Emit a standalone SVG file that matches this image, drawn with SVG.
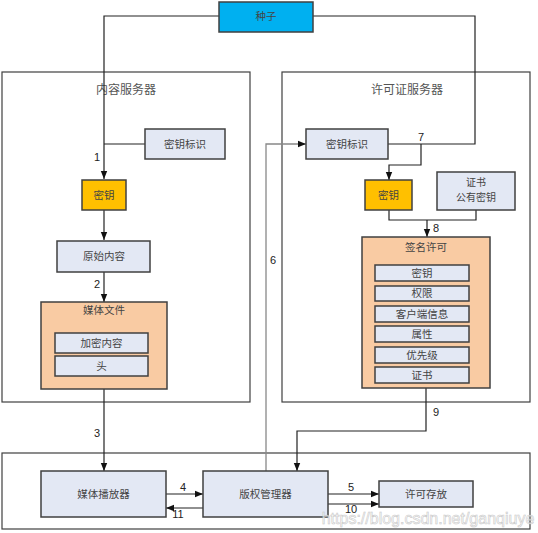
<svg xmlns="http://www.w3.org/2000/svg" width="538" height="533" viewBox="0 0 538 533">
<style>
.c{fill:#fff;stroke:#404040;stroke-width:1.2}
.n{fill:#e3e8f4;stroke:#404040;stroke-width:1.5}
.k{fill:#ffc000;stroke:#404040;stroke-width:1.5}
.p{fill:#f9cba3;stroke:#404040;stroke-width:1.5}
.s{fill:#00b0f0;stroke:#404040;stroke-width:1.5}
text{font-family:"Noto Sans CJK SC","Liberation Serif",serif;font-size:10.5px;fill:#444;text-anchor:middle}
.t{font-size:12px;fill:#555}
.num{font-family:"Liberation Sans",Arial,sans-serif;font-size:11px;fill:#222}
.l{fill:none;stroke:#222;stroke-width:1.2}
.g{fill:none;stroke:#888;stroke-width:1.3}
</style>
<defs>
<marker id="a" viewBox="0 0 8 8" refX="8" refY="4" markerWidth="8" markerHeight="8" markerUnits="userSpaceOnUse" orient="auto"><path d="M0,0.8 L8,4 L0,7.2 Z" fill="#111"/></marker>
</defs>
<rect width="538" height="533" fill="#fff"/>
<g id="containers">
<rect id="content-server" class="c" x="2" y="72" width="248" height="330"/>
<rect id="license-server" class="c" x="282" y="72" width="248" height="330"/>
<rect id="client" class="c" x="2" y="453" width="528" height="76"/>
<text class="t" x="126" y="94">内容服务器</text>
<text class="t" x="407" y="94">许可证服务器</text>
</g>
<g id="connectors">
<polyline class="l" points="219,16 104,16 104,179" marker-end="url(#a)"/>
<line class="l" x1="145" y1="144" x2="104" y2="144"/>
<line class="l" x1="104" y1="210" x2="104" y2="240" marker-end="url(#a)"/>
<line class="l" x1="104" y1="272" x2="104" y2="302" marker-end="url(#a)"/>
<line class="l" x1="104" y1="389" x2="104" y2="471" marker-end="url(#a)"/>
<polyline class="l" points="313,16 475,16 475,144 388,144"/>
<polyline class="l" points="421,144 421,165 389,165 389,180" marker-end="url(#a)"/>
<polyline class="l" points="389,210 389,220 476,220 476,210"/>
<line class="l" x1="427" y1="220" x2="427" y2="237" marker-end="url(#a)"/>
<polyline class="l" points="426,388 426,431 297,431 297,471" marker-end="url(#a)"/>
<polyline class="g" points="266,471 266,144 306,144" marker-end="url(#a)"/>
<line class="l" x1="166" y1="494" x2="203" y2="494" marker-end="url(#a)"/>
<line class="l" x1="203" y1="508" x2="166" y2="508" marker-end="url(#a)"/>
<line class="l" x1="328" y1="494" x2="379" y2="494" marker-end="url(#a)"/>
<line class="l" x1="328" y1="504" x2="379" y2="504" marker-end="url(#a)"/>
<text class="num" x="97" y="161">1</text>
<text class="num" x="97" y="288">2</text>
<text class="num" x="97" y="437">3</text>
<text class="num" x="183" y="491">4</text>
<text class="num" x="351" y="491">5</text>
<text class="num" x="273" y="264">6</text>
<text class="num" x="421" y="141">7</text>
<text class="num" x="436" y="232">8</text>
<text class="num" x="436" y="416">9</text>
<text class="num" x="351" y="513">10</text>
<text class="num" x="178" y="518">11</text>
</g>
<g id="seed"><rect class="s" x="219" y="2" width="94" height="30"/><text x="266" y="20">种子</text></g>
<g id="keyid-left"><rect class="n" x="145" y="129" width="80" height="30"/><text x="185" y="148">密钥标识</text></g>
<g id="key-left"><rect class="k" x="82" y="180" width="44" height="30"/><text x="104" y="199">密钥</text></g>
<g id="raw-content"><rect class="n" x="57" y="241" width="93" height="31"/><text x="104" y="260">原始内容</text></g>
<g id="media-file"><rect class="p" x="41" y="302" width="126" height="87"/><text x="104" y="314">媒体文件</text>
<rect class="n" x="55" y="333" width="93" height="20"/><text x="101.5" y="347">加密内容</text>
<rect class="n" x="55" y="356" width="93" height="20"/><text x="101.5" y="370">头</text></g>
<g id="keyid-right"><rect class="n" x="306" y="129" width="82" height="30"/><text x="347" y="148">密钥标识</text></g>
<g id="key-right"><rect class="k" x="365" y="180" width="47" height="30"/><text x="388.5" y="199">密钥</text></g>
<g id="cert-pubkey"><rect class="n" x="437" y="172" width="78" height="38"/><text x="476" y="186" style="font-size:10px">证书</text><text x="476" y="201" style="font-size:10px">公有密钥</text></g>
<g id="signed-license"><rect class="p" x="362" y="237" width="128" height="151"/><text x="426" y="251">签名许可</text>
<rect class="n" x="375" y="265" width="94" height="16"/><text x="422" y="277">密钥</text>
<rect class="n" x="375" y="286" width="94" height="15"/><text x="422" y="297">权限</text>
<rect class="n" x="375" y="306" width="94" height="16"/><text x="422" y="318">客户端信息</text>
<rect class="n" x="375" y="326" width="94" height="16"/><text x="422" y="338">属性</text>
<rect class="n" x="375" y="347" width="94" height="16"/><text x="422" y="359">优先级</text>
<rect class="n" x="375" y="367" width="94" height="16"/><text x="422" y="379">证书</text></g>
<g id="media-player"><rect class="n" x="41" y="471" width="125" height="46"/><text x="103.5" y="498">媒体播放器</text></g>
<g id="drm-manager"><rect class="n" x="203" y="471" width="125" height="46"/><text x="265.5" y="498">版权管理器</text></g>
<g id="license-store"><rect class="n" x="379" y="481" width="94" height="26"/><text x="426" y="498">许可存放</text></g>
<text x="428" y="524" style="font-family:'Liberation Sans',Arial,sans-serif;font-size:16px;fill:#fff;stroke:#bbb;stroke-width:0.6;opacity:0.8">https://blog.csdn.net/ganqiuye</text>
</svg>
